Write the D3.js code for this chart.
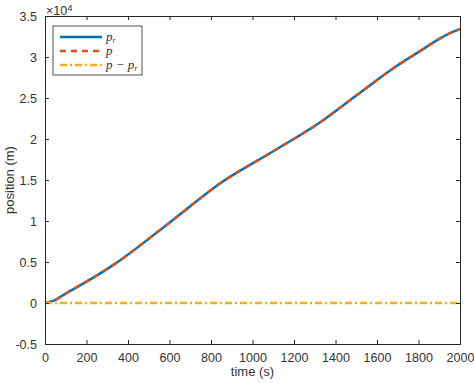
<!DOCTYPE html>
<html><head><meta charset="utf-8">
<script src="https://cdn.jsdelivr.net/npm/d3@7"></script>
<style>body{margin:0;background:#fff}svg{display:block}</style>
</head><body><svg id="c" width="474" height="383"></svg>
<script>
const timeS = [0, 40, 100, 200, 330, 600, 850, 1100, 1330, 1500, 1700, 1800, 1900, 1960, 2000];
const posRef = [0, 250, 1150, 2600, 4650, 9800, 14700, 18500, 22100, 25300, 29000, 30600, 32200, 33000, 33400];
const posErr = timeS.map(() => 0);
const xTicks = [0, 200, 400, 600, 800, 1000, 1200, 1400, 1600, 1800, 2000];
const yTicks = [-0.5, 0, 0.5, 1, 1.5, 2, 2.5, 3, 3.5];
const yTickLabels = ["-0.5", "0", "0.5", "1", "1.5", "2", "2.5", "3", "3.5"];

const svg = d3.select("#c");
const L = 45, R = 460, T = 16, B = 344;
const x = d3.scaleLinear().domain([0, 2000]).range([L, R]);
const y = d3.scaleLinear().domain([-0.5, 3.5]).range([B, T]);
const axCol = "#262626", txtCol = "#333";
const font = "Liberation Sans, Arial, sans-serif";

// curves
const line = d3.line().x(d => x(d[0])).y(d => y(d[1] / 1e4)).curve(d3.curveMonotoneX);
const refData = timeS.map((t, i) => [t, posRef[i]]);
const errData = timeS.map((t, i) => [t, posErr[i]]);
svg.append("path").attr("d", line(refData)).attr("fill", "none").attr("stroke", "#0072BD").attr("stroke-width", 2.5);
svg.append("path").attr("d", line(refData)).attr("fill", "none").attr("stroke", "#D95319").attr("stroke-width", 2.5).attr("stroke-dasharray", "6,5");
svg.append("path").attr("d", line(errData)).attr("fill", "none").attr("stroke", "#EDB120").attr("stroke-width", 2.5).attr("stroke-dasharray", "7,3,2,3");

// axes
const gB = svg.append("g").attr("transform", `translate(0,${B})`)
  .call(d3.axisBottom(x).tickValues(xTicks).tickSize(-4).tickPadding(9).tickFormat(d3.format("d")));
const gT = svg.append("g").attr("transform", `translate(0,${T})`)
  .call(d3.axisTop(x).tickValues(xTicks).tickSize(-4).tickFormat(""));
const gL = svg.append("g").attr("transform", `translate(${L},0)`)
  .call(d3.axisLeft(y).tickValues(yTicks).tickSize(-4).tickPadding(8).tickFormat((d, i) => yTickLabels[i]));
const gR = svg.append("g").attr("transform", `translate(${R},0)`)
  .call(d3.axisRight(y).tickValues(yTicks).tickSize(-4).tickFormat(""));
[gB, gT, gL, gR].forEach(g => {
  g.select(".domain").attr("stroke", axCol).attr("stroke-width", 1);
  g.selectAll(".tick line").attr("stroke", axCol);
  g.selectAll("text").attr("fill", txtCol).attr("font-family", font).attr("font-size", 12.5);
});
[gB, gT].forEach(g => g.selectAll(".tick line").filter(d => d === 0 || d === 2000).remove());
[gL, gR].forEach(g => g.selectAll(".tick line").filter(d => d === -0.5 || d === 3.5).remove());

// exponent label
const ex = svg.append("text").attr("x", L + 1).attr("y", 15).attr("font-family", font).attr("font-size", 12.5).attr("fill", txtCol);
ex.append("tspan").text("\u00d710");
ex.append("tspan").attr("dy", -4.5).attr("font-size", 9.5).text("4");

// axis titles
svg.append("text").attr("x", (L + R) / 2).attr("y", 376).attr("text-anchor", "middle")
  .attr("font-family", font).attr("font-size", 13).attr("fill", txtCol).text("time (s)");
svg.append("text").attr("transform", `translate(14,${(T + B) / 2}) rotate(-90)`).attr("text-anchor", "middle")
  .attr("font-family", font).attr("font-size", 13).attr("fill", txtCol).text("position (m)");

// legend
const lg = svg.append("g");
lg.append("rect").attr("x", 53).attr("y", 26).attr("width", 89).attr("height", 49)
  .attr("fill", "#fff").attr("stroke", axCol).attr("stroke-width", 0.8);
const items = [
  {c: "#0072BD", dash: null, lab: ["p", "r"]},
  {c: "#D95319", dash: "6,5", lab: ["p", ""]},
  {c: "#EDB120", dash: "7,3,2,3", lab: ["p \u2212 p", "r"]}
];
items.forEach((it, i) => {
  const yy = 37 + i * 14;
  const l = lg.append("line").attr("x1", 60).attr("x2", 102).attr("y1", yy).attr("y2", yy)
    .attr("stroke", it.c).attr("stroke-width", 2.5);
  if (it.dash) l.attr("stroke-dasharray", it.dash);
  const t = lg.append("text").attr("x", 106).attr("y", yy + 4).attr("font-family", "Liberation Serif, Times New Roman, serif")
    .attr("font-style", "italic").attr("font-size", 13).attr("fill", txtCol);
  t.append("tspan").text(it.lab[0]);
  if (it.lab[1]) t.append("tspan").attr("dy", 2).attr("font-size", 8).text(it.lab[1]);
});
</script></body></html>
